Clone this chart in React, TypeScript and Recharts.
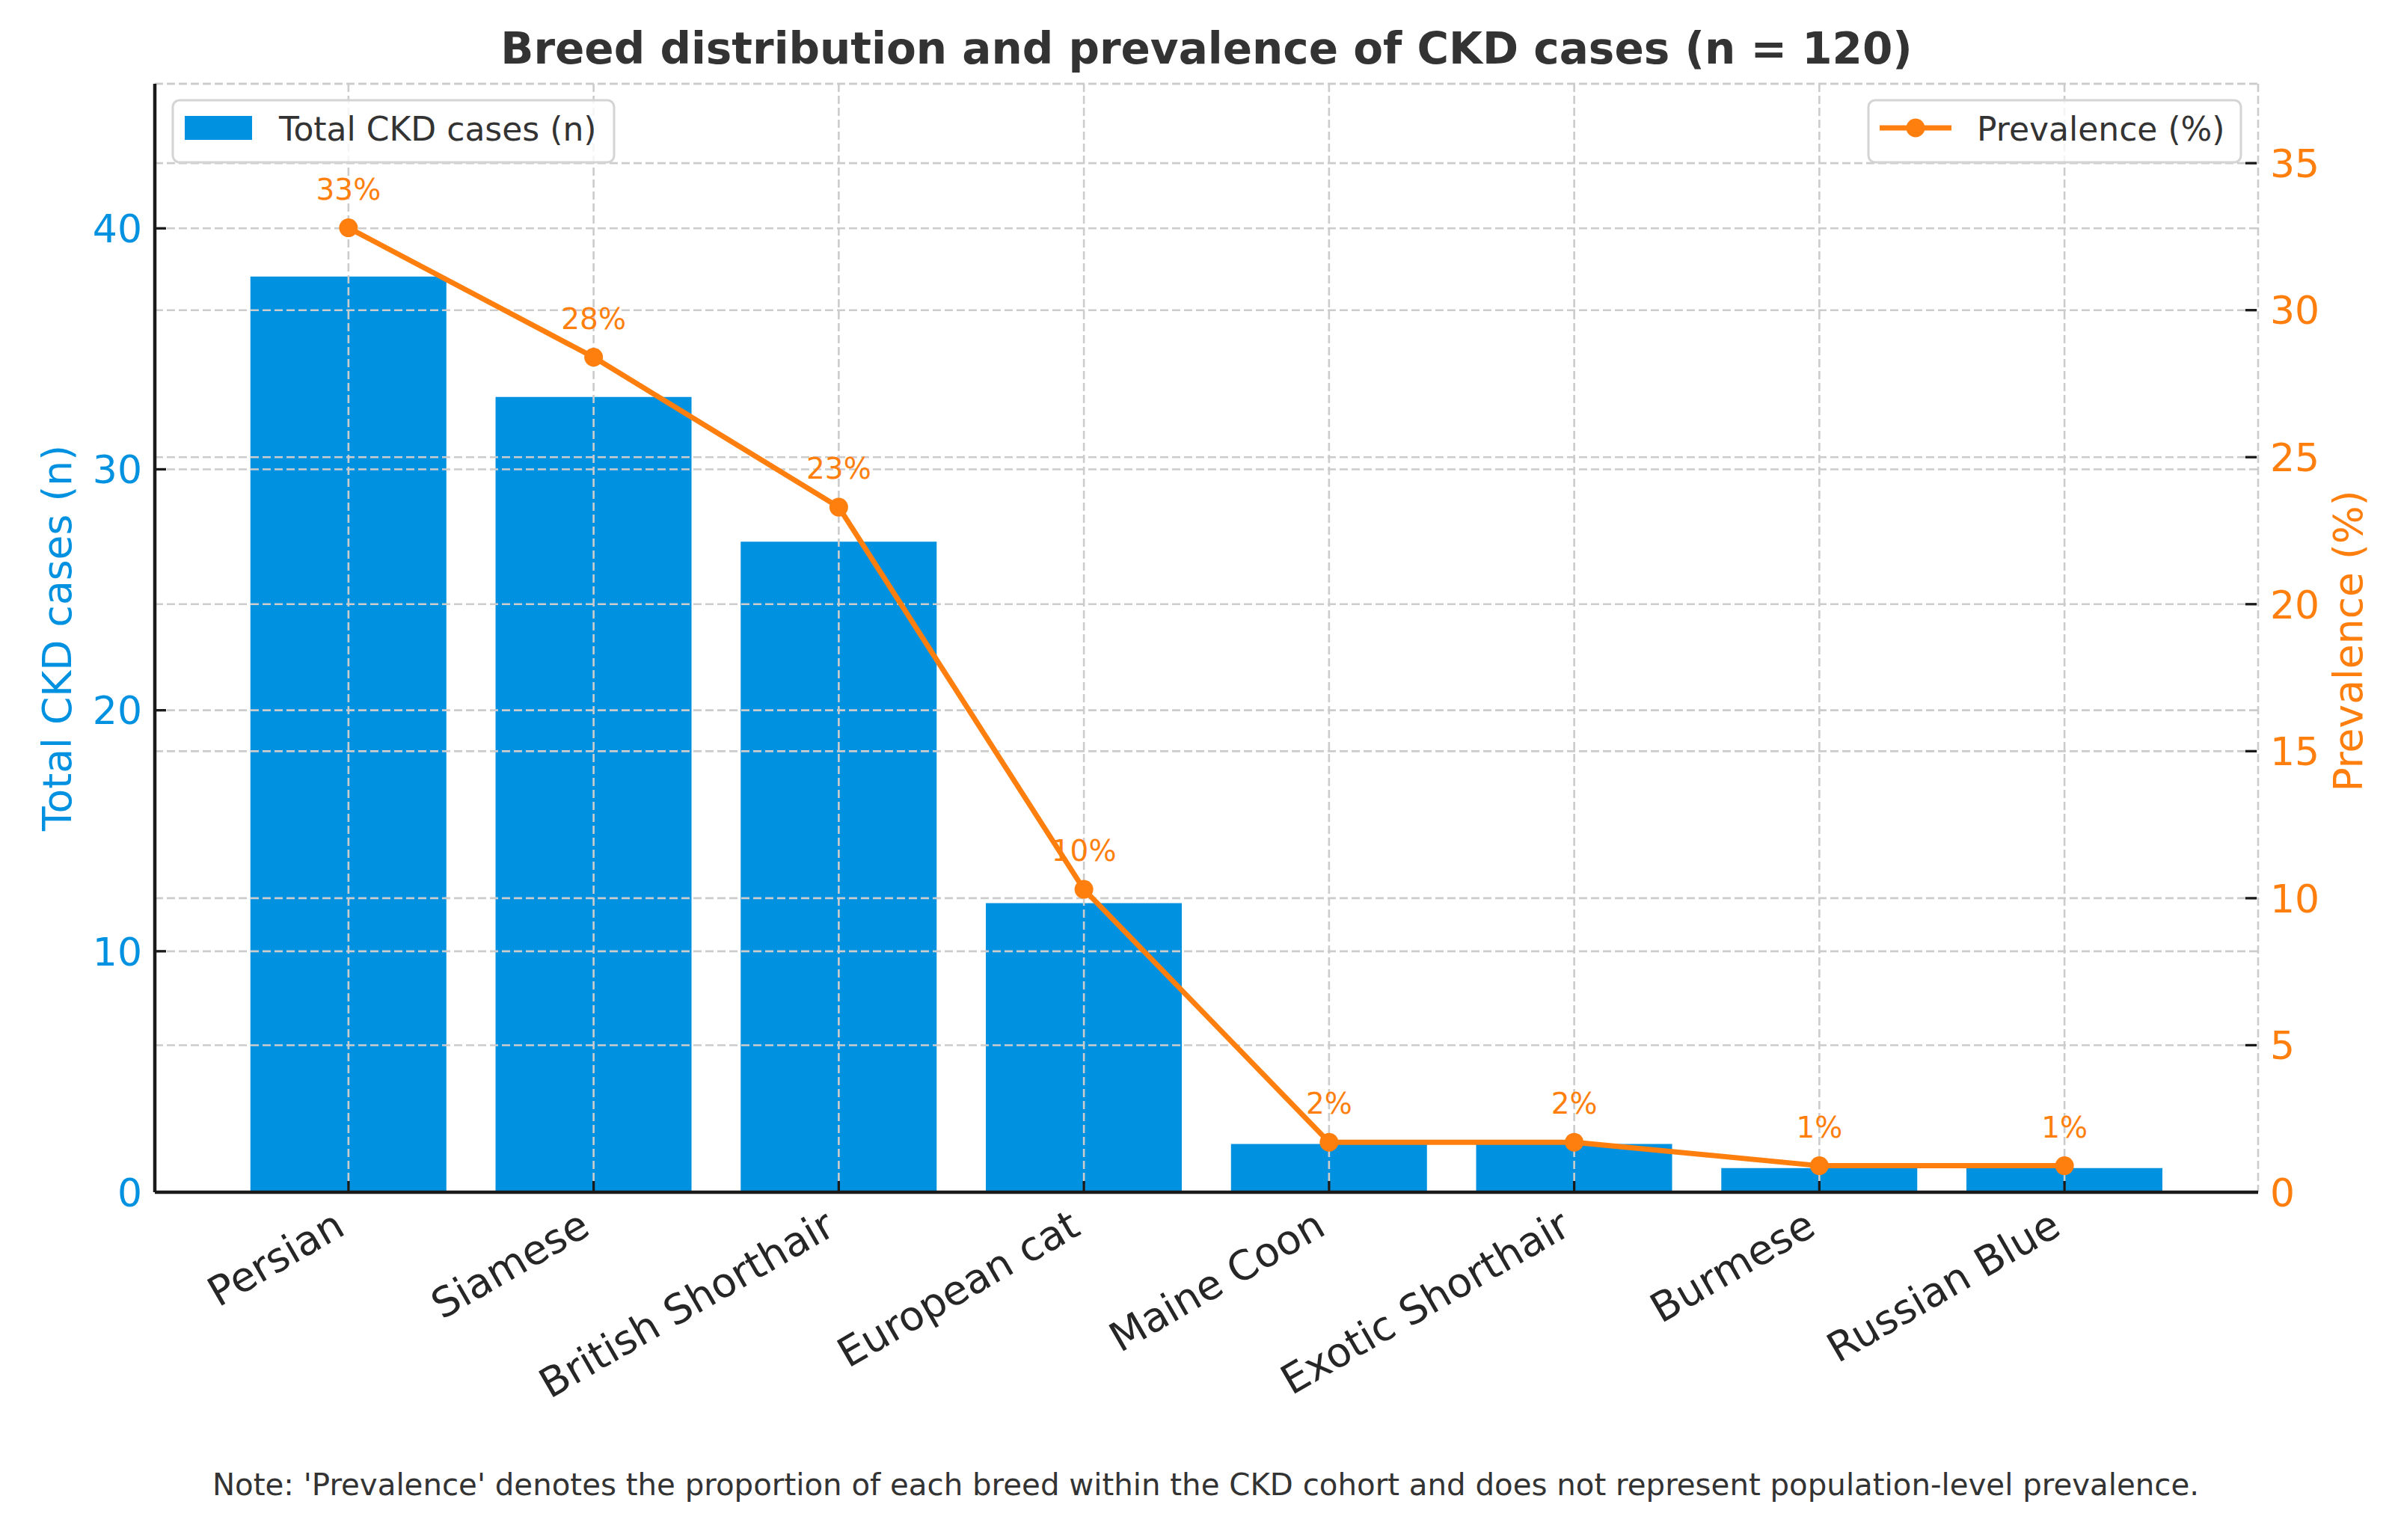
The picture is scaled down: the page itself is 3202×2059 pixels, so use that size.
import React from 'react';
import { ComposedChart, Bar, Line, XAxis, YAxis, CartesianGrid, LabelList } from 'recharts';

const BREEDS = ['Persian', 'Siamese', 'British Shorthair', 'European cat', 'Maine Coon', 'Exotic Shorthair', 'Burmese', 'Russian Blue'];
const CASES = [38, 33, 27, 12, 2, 2, 1, 1];
const PREVALENCE = [32.8, 28.4, 23.3, 10.3, 1.7, 1.7, 0.9, 0.9];
const LEFT_TICKS = [0, 10, 20, 30, 40];
const RIGHT_TICKS = [0, 5, 10, 15, 20, 25, 30, 35];

const TITLE = 'Breed distribution and prevalence of CKD cases (n = 120)';
const NOTE = "Note: 'Prevalence' denotes the proportion of each breed within the CKD cohort and does not represent population-level prevalence.";
const LEFT_LABEL = 'Total CKD cases (n)';
const RIGHT_LABEL = 'Prevalence (%)';

const data = BREEDS.map((breed, i) => ({ breed, cases: CASES[i], prevalence: PREVALENCE[i] }));

const W = 3202;
const H = 2059;
const BLUE = '#0091E0';
const ORANGE = '#FF7F0E';
const DARK = '#1a1a1a';
const FONT = 'DejaVu Sans';
const TICK_LEN = 15;

const XTick = (props: any) => {
  const { x, y, payload } = props;
  const ax = x - 2;
  const ay = y + 55;
  return (
    <g>
      <line x1={x} x2={x} y1={y} y2={y - TICK_LEN} stroke={DARK} strokeWidth={3.3} />
      <text x={ax} y={ay} transform={`rotate(-30, ${ax}, ${ay})`} textAnchor="end" fontSize={54.5} fontFamily={FONT} fill="#262626">
        {payload.value}
      </text>
    </g>
  );
};

const LeftTick = (props: any) => {
  const { x, y, payload } = props;
  return (
    <g>
      <line x1={x} x2={x + TICK_LEN} y1={y} y2={y} stroke={DARK} strokeWidth={3.3} />
      <text x={x - 17} y={y} dy="0.36em" textAnchor="end" fontSize={52} fontFamily={FONT} fill={BLUE}>
        {payload.value}
      </text>
    </g>
  );
};

const RightTick = (props: any) => {
  const { x, y, payload } = props;
  return (
    <g>
      <line x1={x - TICK_LEN - 2} x2={x - 2} y1={y} y2={y} stroke={DARK} strokeWidth={3.3} />
      <text x={x + 16} y={y} dy="0.36em" textAnchor="start" fontSize={52} fontFamily={FONT} fill={ORANGE}>
        {payload.value}
      </text>
    </g>
  );
};

const PctLabel = (props: any) => {
  const { x, y, value } = props;
  return (
    <text x={x} y={y - 38} textAnchor="middle" fontSize={39} fontFamily={FONT} fill={ORANGE}>
      {`${Math.round(value)}%`}
    </text>
  );
};

export default function App() {
  return (
    <div style={{ position: 'absolute', left: 0, top: 0, width: W, height: H, background: '#fff' }}>
      <ComposedChart
        width={W}
        height={H}
        data={data}
        margin={{ top: 112, right: 0, bottom: 0, left: 0 }}
        barCategoryGap="10%"
      >
        <XAxis
          dataKey="breed"
          xAxisId="x"
          height={465}
          interval={0}
          padding={{ left: 95, right: 95 }}
          axisLine={{ stroke: DARK, strokeWidth: 4.5 }}
          tickLine={false}
          tickSize={0}
          tickMargin={0}
          tick={<XTick />}
        />
        <YAxis
          yAxisId="left"
          orientation="left"
          width={207}
          domain={[0, 46]}
          ticks={LEFT_TICKS}
          allowDataOverflow
          axisLine={{ stroke: DARK, strokeWidth: 4.5 }}
          tickLine={false}
          tickSize={0}
          tickMargin={0}
          tick={<LeftTick />}
        />
        <YAxis
          yAxisId="right"
          orientation="right"
          width={183}
          domain={[0, 37.7]}
          ticks={RIGHT_TICKS}
          allowDataOverflow
          axisLine={false}
          tickLine={false}
          tickSize={0}
          tickMargin={0}
          tick={<RightTick />}
        />
        <Bar xAxisId="x" yAxisId="left" dataKey="cases" fill={BLUE} isAnimationActive={false} />
        <CartesianGrid
          xAxisId="x"
          yAxisId="left"
          stroke="#cccccc"
          strokeWidth={2.6}
          strokeDasharray="11 5"
          {...({ zIndex: 350 } as any)}
        />
        <CartesianGrid
          xAxisId="x"
          yAxisId="right"
          vertical={false}
          stroke="#cccccc"
          strokeWidth={2.6}
          strokeDasharray="11 5"
          {...({ zIndex: 350 } as any)}
        />
        <Line
          xAxisId="x"
          yAxisId="right"
          dataKey="prevalence"
          stroke={ORANGE}
          strokeWidth={7}
          dot={{ r: 12.5, fill: ORANGE, stroke: 'none' }}
          activeDot={false}
          isAnimationActive={false}
        >
          <LabelList dataKey="prevalence" content={<PctLabel />} />
        </Line>
      </ComposedChart>
      <svg width={W} height={H} style={{ position: 'absolute', left: 0, top: 0, pointerEvents: 'none' }}>
        <text x={1613} y={85} textAnchor="middle" fontSize={58} fontWeight="bold" fontFamily={FONT} fill="#333333">
          {TITLE}
        </text>
        <text x={1612} y={1999} textAnchor="middle" fontSize={40.3} fontFamily={FONT} fill="#333333">
          {NOTE}
        </text>
        <text
          x={76}
          y={853}
          transform="rotate(-90, 76, 853)"
          textAnchor="middle"
          dominantBaseline="central"
          fontSize={53.5}
          fontFamily={FONT}
          fill={BLUE}
        >
          {LEFT_LABEL}
        </text>
        <text
          x={3139}
          y={857}
          transform="rotate(-90, 3139, 857)"
          textAnchor="middle"
          dominantBaseline="central"
          fontSize={53.5}
          fontFamily={FONT}
          fill={ORANGE}
        >
          {RIGHT_LABEL}
        </text>
        <rect x={231} y={134} width={590} height={83} rx={9} fill="#ffffff" fillOpacity={0.8} stroke="#d4d4d4" strokeWidth={3} />
        <rect x={247} y={155} width={90} height={32} fill={BLUE} />
        <text x={373} y={188} fontSize={44} fontFamily={FONT} fill="#333333">
          {LEFT_LABEL}
        </text>
        <rect x={2498} y={134} width={498} height={83} rx={9} fill="#ffffff" fillOpacity={0.8} stroke="#d4d4d4" strokeWidth={3} />
        <line x1={2513} x2={2609} y1={171} y2={171} stroke={ORANGE} strokeWidth={7} />
        <circle cx={2561} cy={171} r={12.5} fill={ORANGE} />
        <text x={2643} y={188} fontSize={44} fontFamily={FONT} fill="#333333">
          {RIGHT_LABEL}
        </text>
      </svg>
    </div>
  );
}
